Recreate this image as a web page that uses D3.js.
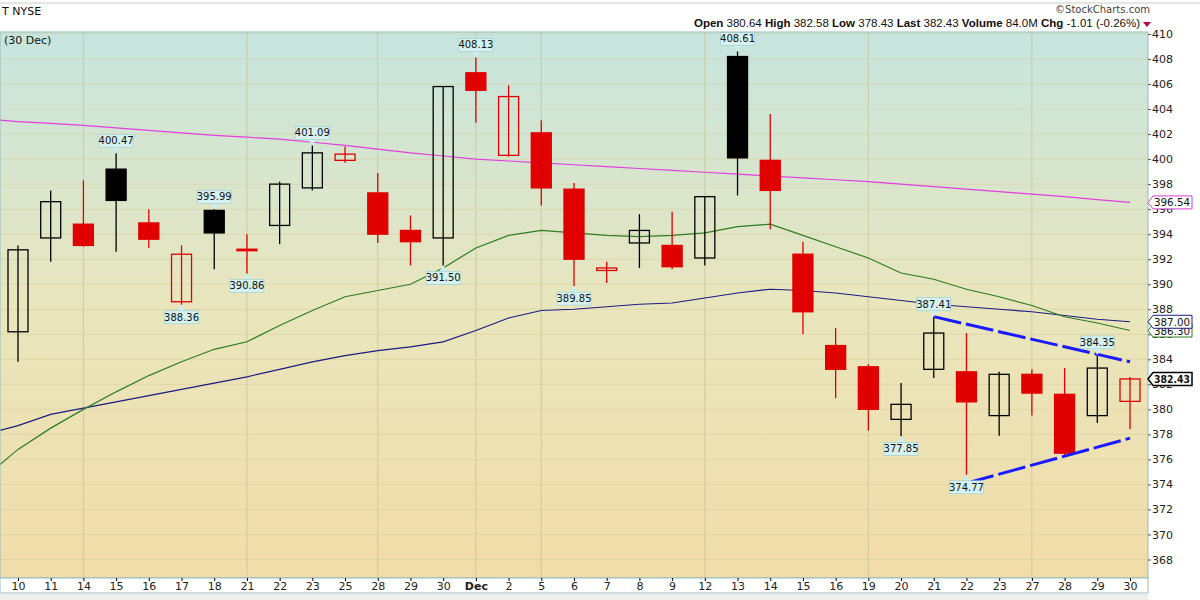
<!DOCTYPE html>
<html><head><meta charset="utf-8">
<script src="https://cdn.jsdelivr.net/npm/d3@7"></script>
<style>body{margin:0;background:#fff;font-family:"DejaVu Sans",Verdana,sans-serif}</style>
</head><body><svg id="c" width="1200" height="600"></svg>
<script>
const dates=["10","11","14","15","16","17","18","21","22","23","25","28","29","30","Dec","2","5","6","7","8","9","12","13","14","15","16","19","20","21","22","23","27","28","29","30"];
const opens =[386.2,393.7,394.8,399.2,394.9,388.6,395.9,392.8,394.7,397.7,399.9,397.3,394.3,393.7,406.9,400.3,402.1,397.6,391.1,393.3,393.1,392.1,408.2,399.9,392.4,385.1,383.4,379.2,383.2,383.0,379.5,382.8,381.2,379.5,380.64];
const highs =[393.1,397.5,398.3,400.47,396.0,393.1,395.99,394.0,398.2,401.09,401.0,398.9,395.5,405.8,408.13,405.9,403.1,398.1,391.8,395.6,395.8,397.0,408.61,403.6,393.4,386.5,383.6,382.1,387.41,386.1,383.0,383.2,383.3,384.35,382.58];
const lows  =[383.8,391.8,393.0,392.6,392.9,388.36,391.2,390.86,393.2,397.5,399.7,393.3,391.5,391.50,402.9,400.2,396.3,389.85,390.1,391.3,391.2,391.5,397.1,394.4,386.0,380.9,378.3,377.85,382.5,374.77,377.9,379.5,376.3,378.9,378.43];
const closes=[392.75,396.6,393.1,396.7,393.6,392.4,394.1,392.7,398.0,400.5,400.4,394.0,393.4,405.8,405.5,405.0,397.7,392.0,391.3,394.3,391.4,397.0,400.1,397.5,387.8,383.2,380.0,380.4,386.1,380.6,382.8,381.3,376.5,383.3,382.43];
const prevClose0=386.0;
// moving averages, index -1 .. 34
const ma200=[403.2,403.0,402.85,402.7,402.5,402.3,402.1,401.9,401.75,401.6,401.35,401.1,400.8,400.5,400.25,400.0,399.85,399.7,399.55,399.4,399.25,399.1,398.95,398.8,398.65,398.5,398.35,398.2,398.0,397.8,397.6,397.4,397.2,397.0,396.77,396.54];
const ma20=[374.6,376.8,378.5,380.0,381.4,382.7,383.8,384.8,385.4,386.7,387.9,389.0,389.5,390.0,391.3,392.9,393.9,394.3,394.1,393.9,393.8,393.9,394.1,394.6,394.8,393.9,393.0,392.1,390.9,390.4,389.6,389.0,388.3,387.4,386.9,386.3];
const ma50=[378.0,378.7,379.6,380.1,380.6,381.1,381.6,382.1,382.6,383.2,383.8,384.3,384.7,385.0,385.4,386.3,387.3,387.9,388.0,388.2,388.4,388.5,388.9,389.3,389.6,389.5,389.3,389.0,388.7,388.4,388.2,388.0,387.8,387.5,387.2,387.0];
const hiLabels=[3,6,9,14,22,28,33];
const loLabels=[5,7,13,17,27,29];
const upperTrend=[[28,387.41],[34,383.8]];
const lowerTrend=[[29,374.1],[34,377.7]];
const weekLines=[2,7,11,14,16,21,26,31];
const yTicks=d3.range(368,411,2);

const svg=d3.select("#c");
const L=0,R=1148,T=32,B=578;
const x=d3.scaleLinear().domain([0,34]).range([18,1130]);
const y=d3.scaleLinear().domain([368,410]).range([559.5,34]);
const defs=svg.append("defs");
const g=defs.append("linearGradient").attr("id","bg").attr("x1",0).attr("y1",0).attr("x2",0).attr("y2",1);
g.append("stop").attr("offset","0%").attr("stop-color","#c6e5df");
g.append("stop").attr("offset","50%").attr("stop-color","#e9e6bd");
g.append("stop").attr("offset","100%").attr("stop-color","#f1dca8");
defs.append("clipPath").attr("id","clip").append("rect").attr("x",L).attr("y",T).attr("width",R-L).attr("height",B-T);

svg.append("rect").attr("x",L).attr("y",T).attr("width",R-L).attr("height",B-T).attr("fill","url(#bg)");
const p=svg.append("g").attr("clip-path","url(#clip)");
yTicks.forEach(t=>p.append("line").attr("x1",L).attr("x2",R).attr("y1",y(t)).attr("y2",y(t)).attr("stroke","#d9cfa0").attr("stroke-opacity",0.6));
weekLines.forEach(i=>p.append("line").attr("x1",x(i)).attr("x2",x(i)).attr("y1",T).attr("y2",B).attr("stroke","#c9c39a").attr("stroke-opacity",0.8));

const line=d3.line().x((d,i)=>x(i-1)).y(d=>y(d));
p.append("path").attr("d",line(ma200)).attr("fill","none").attr("stroke","#e040e0").attr("stroke-width",1.2);
p.append("path").attr("d",line(ma50)).attr("fill","none").attr("stroke","#1c1c80").attr("stroke-width",1.2);
p.append("path").attr("d",line(ma20)).attr("fill","none").attr("stroke","#2e7d22").attr("stroke-width",1.2);

const bw=20;
closes.forEach((c,i)=>{
  const o=opens[i],pc=i?closes[i-1]:prevClose0;
  const col=c>=pc?"#000":"#e00000";
  const hollow=c>=o;
  p.append("line").attr("x1",x(i)).attr("x2",x(i)).attr("y1",y(highs[i])).attr("y2",y(lows[i])).attr("stroke",col).attr("stroke-width",1.3);
  const top=y(Math.max(o,c)),h=Math.max(1.5,y(Math.min(o,c))-top);
  p.append("rect").attr("x",x(i)-bw/2).attr("y",top).attr("width",bw).attr("height",h)
   .attr("fill",hollow?"#f3ecc4":col).attr("fill-opacity",hollow?0:1).attr("stroke",col).attr("stroke-width",1.3);
});
[upperTrend,lowerTrend].forEach(tr=>p.append("line").attr("x1",x(tr[0][0])).attr("y1",y(tr[0][1])).attr("x2",x(tr[1][0])).attr("y2",y(tr[1][1]))
  .attr("stroke","#1a1aff").attr("stroke-width",3).attr("stroke-dasharray","28,5"));

function tag(i,v,above){
  const cx=x(i),cy=y(v);
  const txt=v.toFixed(2);
  const w=34,h=13;
  const by=above?cy-6-h:cy+6;
  const gg=p.append("g");
  gg.append("path").attr("d",above?`M${cx-4},${by+h}L${cx},${cy}L${cx+4},${by+h}Z`:`M${cx-4},${by}L${cx},${cy}L${cx+4},${by}Z`).attr("fill","#cdeef0");
  gg.append("rect").attr("x",cx-w/2).attr("y",by).attr("width",w).attr("height",h).attr("fill","#d6f1f2").attr("stroke","#9cc").attr("stroke-width",0.6);
  gg.append("text").attr("x",cx).attr("y",by+10).attr("text-anchor","middle").attr("font-size",10).attr("fill","#111").text(txt);
}
hiLabels.forEach(i=>tag(i,highs[i],true));
loLabels.forEach(i=>tag(i,lows[i],false));

svg.append("rect").attr("x",L).attr("y",T).attr("width",R-L).attr("height",B-T).attr("fill","none").attr("stroke","#9bb");
// y axis
const ya=svg.append("g").attr("transform",`translate(${R},0)`).call(d3.axisRight(y).tickValues(yTicks).tickSize(3).tickFormat(d3.format("d")));
ya.select(".domain").remove();
ya.selectAll("text").attr("font-size",11).attr("font-family","DejaVu Sans, sans-serif").attr("fill","#222").attr("x",4);
ya.selectAll("line").attr("stroke","#555");
function rtag(v,txt,col,bold){
  const cy=y(v);
  const gg=svg.append("g");
  gg.append("path").attr("d",`M${R},${cy}L${R+5},${cy-6.5}L${R+44},${cy-6.5}L${R+44},${cy+6.5}L${R+5},${cy+6.5}Z`).attr("fill","#fff").attr("stroke",col).attr("stroke-width",bold?1.5:1);
  gg.append("text").attr("x",R+6).attr("y",cy+4).attr("font-size",bold?10.5:11).attr("font-weight",bold?"bold":"normal")
    .attr("textLength",36).attr("lengthAdjust","spacingAndGlyphs").attr("fill","#111").text(txt);
}
rtag(396.54,"396.54","#d040d0");
rtag(386.30,"386.30","#2e7d22");
rtag(387.00,"387.00","#1c1c80");
rtag(382.43,"382.43","#000",true);

// x axis band
svg.append("rect").attr("x",0).attr("y",B).attr("width",R).attr("height",15).attr("fill","#fff").attr("stroke","#9bb");
svg.append("rect").attr("x",0).attr("y",B+16).attr("width",R).attr("height",8).attr("fill","#eee");
const xa=svg.append("g").attr("transform",`translate(0,${B})`).call(d3.axisBottom(x).tickValues(d3.range(35)).tickSize(3).tickFormat(i=>dates[i]));
xa.select(".domain").remove();
xa.selectAll("text").attr("font-size",11).attr("font-family","DejaVu Sans, sans-serif").attr("fill","#222").attr("dy","0.55em")
  .attr("font-weight",(i)=>dates[i]==="Dec"?"bold":"normal");

// header
svg.append("line").attr("x1",0).attr("x2",1200).attr("y1",3).attr("y2",3).attr("stroke","#ccc");
svg.append("text").attr("x",2).attr("y",15).attr("font-size",11).attr("fill","#111").text("T  NYSE");
svg.append("text").attr("x",4).attr("y",44).attr("font-size",11).attr("fill","#111").text("(30 Dec)");
svg.append("text").attr("x",1150).attr("y",13).attr("text-anchor","end").attr("font-size",10).attr("fill","#444").text("©StockCharts.com");
const hdr=svg.append("text").attr("x",1140).attr("y",27).attr("text-anchor","end").attr("font-size",11.5).attr("fill","#111").attr("font-family","Liberation Sans, Arial, sans-serif");
[["Open ","380.64  "],["High ","382.58  "],["Low ","378.43  "],["Last ","382.43  "],["Volume ","84.0M  "],["Chg ","-1.01 (-0.26%) "]].forEach(([a,b])=>{
  hdr.append("tspan").attr("font-weight","bold").text(a);
  hdr.append("tspan").text(b);
});
svg.append("path").attr("d","M1143,22L1151,22L1147,27Z").attr("fill","#c00040");
</script></body></html>
